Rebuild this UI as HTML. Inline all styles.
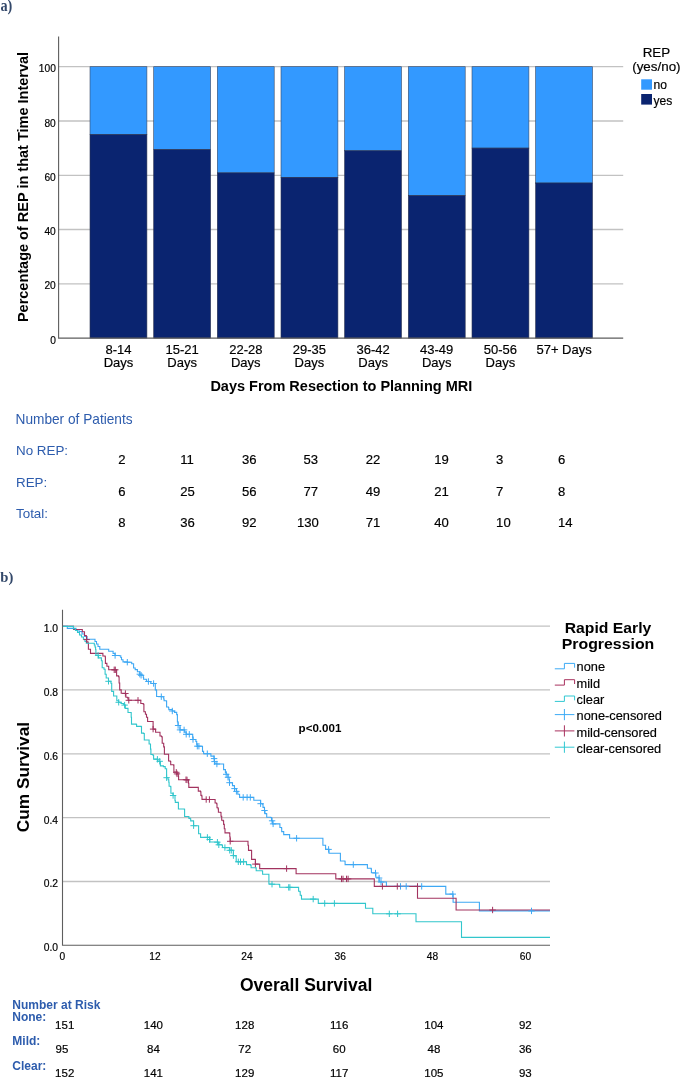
<!DOCTYPE html>
<html lang="en"><head><meta charset="utf-8"><title>Figure</title>
<style>
html,body{margin:0;padding:0;background:#fff;}
svg{display:block;}
text{font-family:"Liberation Sans",Arial,sans-serif;fill:#000;stroke:#000;stroke-width:0.18;}
.b,.ser,.blue{stroke:none;}
.b{font-weight:bold;}
.blue{fill:#2d5cad;}
.ser{font-family:"Liberation Serif",serif;font-weight:bold;fill:#33486a;}
.grid{stroke:#c2c2c2;stroke-width:1.3;}
.ax{stroke:#5e5e5e;stroke-width:1.1;fill:none;}
</style></head><body>
<svg width="685" height="1079" viewBox="0 0 685 1079">
<rect width="685" height="1079" fill="#fff"/>
<text class="ser" transform="translate(0.4 10.9) scale(0.87 1)" font-size="16.4">a)</text>
<line class="grid" x1="58.6" x2="623.2" y1="283.8" y2="283.8"/>
<line class="grid" x1="58.6" x2="623.2" y1="229.5" y2="229.5"/>
<line class="grid" x1="58.6" x2="623.2" y1="175.3" y2="175.3"/>
<line class="grid" x1="58.6" x2="623.2" y1="121.0" y2="121.0"/>
<line class="grid" x1="58.6" x2="623.2" y1="66.7" y2="66.7"/>
<rect x="90.0" y="66.7" width="56.9" height="67.8" fill="#3399ff" stroke="#3a4a66" stroke-width="0.6"/>
<rect x="90.0" y="134.5" width="56.9" height="203.6" fill="#0a2470" stroke="#2a3350" stroke-width="0.6"/>
<rect x="153.7" y="66.7" width="56.9" height="82.9" fill="#3399ff" stroke="#3a4a66" stroke-width="0.6"/>
<rect x="153.7" y="149.6" width="56.9" height="188.5" fill="#0a2470" stroke="#2a3350" stroke-width="0.6"/>
<rect x="217.3" y="66.7" width="56.9" height="106.2" fill="#3399ff" stroke="#3a4a66" stroke-width="0.6"/>
<rect x="217.3" y="172.9" width="56.9" height="165.2" fill="#0a2470" stroke="#2a3350" stroke-width="0.6"/>
<rect x="281.0" y="66.7" width="56.9" height="110.6" fill="#3399ff" stroke="#3a4a66" stroke-width="0.6"/>
<rect x="281.0" y="177.3" width="56.9" height="160.8" fill="#0a2470" stroke="#2a3350" stroke-width="0.6"/>
<rect x="344.6" y="66.7" width="56.9" height="84.1" fill="#3399ff" stroke="#3a4a66" stroke-width="0.6"/>
<rect x="344.6" y="150.8" width="56.9" height="187.3" fill="#0a2470" stroke="#2a3350" stroke-width="0.6"/>
<rect x="408.3" y="66.7" width="56.9" height="128.9" fill="#3399ff" stroke="#3a4a66" stroke-width="0.6"/>
<rect x="408.3" y="195.6" width="56.9" height="142.5" fill="#0a2470" stroke="#2a3350" stroke-width="0.6"/>
<rect x="472.0" y="66.7" width="56.9" height="81.4" fill="#3399ff" stroke="#3a4a66" stroke-width="0.6"/>
<rect x="472.0" y="148.1" width="56.9" height="190.0" fill="#0a2470" stroke="#2a3350" stroke-width="0.6"/>
<rect x="535.6" y="66.7" width="56.9" height="116.3" fill="#3399ff" stroke="#3a4a66" stroke-width="0.6"/>
<rect x="535.6" y="183.0" width="56.9" height="155.1" fill="#0a2470" stroke="#2a3350" stroke-width="0.6"/>
<path class="ax" d="M58.6 36.6V338.1H623.2"/>
<text x="55.8" y="343.7" font-size="10.2" text-anchor="end">0</text>
<text x="55.8" y="289.4" font-size="10.2" text-anchor="end">20</text>
<text x="55.8" y="235.1" font-size="10.2" text-anchor="end">40</text>
<text x="55.8" y="180.9" font-size="10.2" text-anchor="end">60</text>
<text x="55.8" y="126.6" font-size="10.2" text-anchor="end">80</text>
<text x="55.8" y="72.3" font-size="10.2" text-anchor="end">100</text>
<text x="118.5" y="354.3" font-size="13" text-anchor="middle">8-14</text>
<text x="118.5" y="366.5" font-size="13" text-anchor="middle">Days</text>
<text x="182.1" y="354.3" font-size="13" text-anchor="middle">15-21</text>
<text x="182.1" y="366.5" font-size="13" text-anchor="middle">Days</text>
<text x="245.8" y="354.3" font-size="13" text-anchor="middle">22-28</text>
<text x="245.8" y="366.5" font-size="13" text-anchor="middle">Days</text>
<text x="309.4" y="354.3" font-size="13" text-anchor="middle">29-35</text>
<text x="309.4" y="366.5" font-size="13" text-anchor="middle">Days</text>
<text x="373.1" y="354.3" font-size="13" text-anchor="middle">36-42</text>
<text x="373.1" y="366.5" font-size="13" text-anchor="middle">Days</text>
<text x="436.7" y="354.3" font-size="13" text-anchor="middle">43-49</text>
<text x="436.7" y="366.5" font-size="13" text-anchor="middle">Days</text>
<text x="500.4" y="354.3" font-size="13" text-anchor="middle">50-56</text>
<text x="500.4" y="366.5" font-size="13" text-anchor="middle">Days</text>
<text x="564.1" y="354.3" font-size="13" text-anchor="middle">57+ Days</text>
<text class="b" x="341.3" y="390.8" font-size="14.5" text-anchor="middle">Days From Resection to Planning MRI</text>
<text class="b" transform="translate(28.4 187) rotate(-90)" font-size="14.5" text-anchor="middle">Percentage of REP in that Time Interval</text>
<text x="656.4" y="57.4" font-size="13.4" text-anchor="middle">REP</text>
<text x="656.4" y="70.6" font-size="13.4" text-anchor="middle">(yes/no)</text>
<rect x="641.2" y="79.3" width="10.8" height="10.4" fill="#3399ff"/>
<rect x="641.2" y="94" width="10.8" height="10.6" fill="#0a2470"/>
<text x="653.5" y="89.1" font-size="12.1">no</text>
<text x="653.5" y="104.5" font-size="12.1">yes</text>
<text class="blue" transform="translate(15.5 423.7) scale(0.985 1)" font-size="13.9">Number of Patients</text>
<text class="blue" x="16" y="454.9" font-size="13.4">No REP:</text>
<text class="blue" x="16" y="486.7" font-size="13.4">REP:</text>
<text class="blue" x="16" y="518" font-size="13.4">Total:</text>
<text x="118.3" y="463.9" font-size="13.1">2</text>
<text x="180.2" y="463.9" font-size="13.1">11</text>
<text x="242.0" y="463.9" font-size="13.1">36</text>
<text x="303.4" y="463.9" font-size="13.1">53</text>
<text x="365.8" y="463.9" font-size="13.1">22</text>
<text x="434.2" y="463.9" font-size="13.1">19</text>
<text x="496.1" y="463.9" font-size="13.1">3</text>
<text x="558.0" y="463.9" font-size="13.1">6</text>
<text x="118.3" y="495.6" font-size="13.1">6</text>
<text x="180.2" y="495.6" font-size="13.1">25</text>
<text x="242.0" y="495.6" font-size="13.1">56</text>
<text x="303.4" y="495.6" font-size="13.1">77</text>
<text x="365.8" y="495.6" font-size="13.1">49</text>
<text x="434.2" y="495.6" font-size="13.1">21</text>
<text x="496.1" y="495.6" font-size="13.1">7</text>
<text x="558.0" y="495.6" font-size="13.1">8</text>
<text x="118.3" y="526.6" font-size="13.1">8</text>
<text x="180.2" y="526.6" font-size="13.1">36</text>
<text x="242.0" y="526.6" font-size="13.1">92</text>
<text x="296.9" y="526.6" font-size="13.1">130</text>
<text x="365.8" y="526.6" font-size="13.1">71</text>
<text x="434.2" y="526.6" font-size="13.1">40</text>
<text x="496.1" y="526.6" font-size="13.1">10</text>
<text x="558.0" y="526.6" font-size="13.1">14</text>
<text class="ser" transform="translate(0.3 581.7) scale(0.97 1)" font-size="15.1">b)</text>
<line class="grid" x1="62.5" x2="550" y1="881.5" y2="881.5"/>
<line class="grid" x1="62.5" x2="550" y1="817.6" y2="817.6"/>
<line class="grid" x1="62.5" x2="550" y1="753.8" y2="753.8"/>
<line class="grid" x1="62.5" x2="550" y1="689.9" y2="689.9"/>
<line class="grid" x1="62.5" x2="550" y1="626.1" y2="626.1"/>
<path d="M62.6 626.4H67.3V628.4H73.5H76.0V629.5H79.0V631.5H82.0V634.0H84.5V636.5H87.0V639.3H93.6H95.0V641.5H96.5V644.0H98.0V646.5H99.8V649.2H108.7V651.3H112.7H113.1V653.5H115.1V655.5H119.3V655.7H120.8V657.5H121.5V659.7H123.0V661.9H127.3V662.2H131.7V662.3V663.7H133.4V663.8H133.6V668.0H135.2V669.6H137.4V671.8H139.8V674.2H141.1V675.3H143.3V677.5H143.6V679.3H146.2V679.7H146.6V681.5H148.4H150.6V681.9H150.9V683.5H153.6H155.0H155.3V689.9H156.4V690.6H156.6V696.5H161.3V696.7H163.4H163.7V699.0H164.1V700.8H166.3V701.0H166.6V707.0H168.5V707.8H168.8V709.6H172.3V709.9V711.0H174.5V712.4H176.7V714.6H177.4V721.9H178.1V725.5H180.0V727.7V729.9H184.1H184.7V732.1H186.2V734.3H189.3H191.9V734.4H192.7V737.5H193.0V739.5H195.9V741.5H196.7V744.8H197.3V746.2H198.9H202.2H202.5V751.4H203.6V753.7H207.3H210.5H210.9V756.1H213.8V756.5H214.1V758.6H214.5V761.6H214.9V763.8H216.9V764.0H223.2H223.6V769.6H225.4V772.5H226.2V774.3H228.0V777.3H229.1V779.8H229.5V782.7H232.3V782.9H232.5V785.6H234.2V786.0H234.5V788.6H236.4V791.4H237.8V794.2H239.6V794.6V797.4H243.2H247.1H250.3H253.8V797.5V800.3H260.4V800.4H260.6V803.7H262.6V804.1H263.0V807.4H264.4V807.7H264.5V810.5H265.0V813.6H266.6V814.0H266.7V817.3H270.7V817.5H271.5V820.8H272.1H272.5V823.9H273.1H279.4H279.9V827.5H281.5V828.0H281.7V831.6H283.7V831.8V834.6H289.6V838.3H296.6H322.4H322.9V845.2H325.6V845.9V849.4H328.6H329.0V849.6V853.2H340.1H340.4V861.0H344.8V861.3H345.1V864.6H353.3H367.0H367.4V868.3H371.1V868.9H371.4V872.7H375.5V873.0H375.8V877.3H379.1V878.0V881.7H381.0V882.0H386.4V886.4H400.5H406.2H421.7H445.6H445.8V894.1H452.8H453.1V902.2H479.4V910.9H531.5H550.0" fill="none" stroke="#3ea8f4" stroke-width="1.1" stroke-linejoin="miter"/>
<path d="M62.6 626.4H73.5V629.5H81.9H82.3V631.7H84.5V633.1V635.5H86.3V636.8H86.6V639.6V641.9H88.0V643.0H88.4V649.2H90.5V649.5V653.4H102.4H102.9V656.0H105.1V656.8H105.4V663.4H106.9V664.1V666.2H108.7V666.6V669.7H114.2V669.8H115.3H116.2H116.6V675.9H118.6V676.7H119.1V683.0H119.7V689.9H121.2V693.3H125.4V693.5H125.9V697.2H127.7V697.9H128.1V700.2H128.8V700.3H138.0H140.4H140.8V703.5H143.3V704.2H143.9V711.7H145.4V714.2H146.5V717.2H147.6V721.5H152.3H153.1V725.2V729.1H155.3V729.5H155.6V732.2H159.7V732.3H160.0V736.0H161.5V736.7H162.2V743.2H163.7V746.9H164.4V754.2H168.3H168.6V761.0H170.3V761.5H170.7V764.8H173.6V765.1H173.9V772.1H176.3V772.3H177.0V773.9H178.3V776.0H178.6V779.7H186.0H187.0V779.9H188.2V779.8H188.5V783.2H188.8V787.4H198.0H198.3V791.1H200.5V791.8H200.9V795.4H201.8V796.2H202.0V799.4H206.2V799.5H209.4H214.8H215.1V803.0H216.6V803.8H217.0V807.8H218.1V808.9H218.4V812.2H220.6V812.5H221.0V816.2H221.7V820.2H223.2V820.9H223.6V824.4H224.3V828.8H225.0V832.9H229.4V833.1H229.8V837.0H230.2V841.3H247.5H248.0V845.2H248.5V850.4H251.4V850.5H251.6V859.4H255.1V859.5H255.4V864.1H259.2H259.7V868.6H286.6H295.9H296.1V873.8H335.6H335.8V878.9H341.5H343.0H346.5H348.1H374.3V886.4H382.4H397.3H417.5V898.2H456.1V898.3V910.0H492.6H550.0" fill="none" stroke="#a2335f" stroke-width="1.1" stroke-linejoin="miter"/>
<path d="M62.6 626.4H73.5V628.8H75.5V630.5H77.5V632.5H79.5V635.0H81.5V637.0H83.4V639.3H85.0V641.5H86.3V643.3H93.7H94.3V645.0H95.0V647.0H95.6V649.5H95.9V655.3H98.1V655.4H98.5V657.9H101.4V660.8H102.2V667.7H104.0V669.2H105.1V674.3H106.2V678.0H108.5V681.3H110.9V683.3H111.7V691.4H113.6V696.0H116.8V700.8H118.7V702.3H121.0V703.5H123.7V704.5H124.6V705.1H125.3V708.4H128.0V712.5H131.2V717.2H131.5V724.1H136.3V724.5H136.6V726.4H141.2V726.6H141.5V733.1H143.6V733.5H144.3V740.0H148.4H149.1V744.0H150.5V749.1H150.9V754.5H153.1V755.5H153.6V759.1H157.4V759.3H157.8V761.3H159.7H160.4V765.9H163.4V766.6H165.2V768.8H166.6V777.7H168.1V779.7H168.8V782.3H169.1V786.3H170.6V786.7H170.9V793.2H173.1V795.5H175.0V800.5H175.3V802.4H178.3V802.5H178.4V809.0H184.3V809.2H184.6V816.5H188.5H188.9V818.4H190.3V818.7H190.7V820.9H193.5V821.0H193.6V825.7H196.4H198.6V833.8H200.6V835.7V837.4H207.4H209.7V837.5V839.5V842.0H217.4V842.2H218.5H218.8V844.8H222.1V845.2H222.5V847.5H224.9V847.6H229.6V847.8H229.7V850.3H231.3H233.2V850.6H233.4V855.6H235.7V855.9H236.2V861.7H238.3V861.8H240.5H243.6H245.9H246.5V864.6H250.5V865.1H251.1V867.7H255.7V867.9H256.2V870.8H262.3V871.0H262.6V874.3H267.9H268.9V884.0H272.0V884.2H279.2V884.6H279.7V887.2H288.7V887.4H289.9H298.4H298.6V891.2H299.9V891.7H300.2V895.3H301.3V895.6H301.5V899.1H313.2H318.3V903.4H324.7H334.4H365.5V903.5V908.2H372.5H372.8V913.8H389.3H397.6H415.6H416.0V921.8H461.0H461.5V937.4H550.0" fill="none" stroke="#32c6cc" stroke-width="1.1" stroke-linejoin="miter"/>
<path d="M111.9 655.5h6.4M115.1 652.3v6.4M124.1 662.2h6.4M127.3 659.0v6.4M136.6 674.2h6.4M139.8 671.0v6.4M137.9 675.3h6.4M141.1 672.1v6.4M145.2 681.5h6.4M148.4 678.3v6.4M150.4 683.5h6.4M153.6 680.3v6.4M158.1 696.7h6.4M161.3 693.5v6.4M169.1 711.0h6.4M172.3 707.8v6.4M174.9 725.5h6.4M178.1 722.3v6.4M176.8 729.9h6.4M180.0 726.7v6.4M180.9 729.9h6.4M184.1 726.7v6.4M183.0 734.3h6.4M186.2 731.1v6.4M186.1 734.3h6.4M189.3 731.1v6.4M189.8 739.5h6.4M193.0 736.3v6.4M194.1 746.2h6.4M197.3 743.0v6.4M195.7 746.2h6.4M198.9 743.0v6.4M204.1 753.7h6.4M207.3 750.5v6.4M210.9 758.6h6.4M214.1 755.4v6.4M211.3 761.6h6.4M214.5 758.4v6.4M213.7 764.0h6.4M216.9 760.8v6.4M223.0 774.3h6.4M226.2 771.1v6.4M224.8 777.3h6.4M228.0 774.1v6.4M226.3 782.7h6.4M229.5 779.5v6.4M231.3 788.6h6.4M234.5 785.4v6.4M233.2 791.4h6.4M236.4 788.2v6.4M240.0 797.4h6.4M243.2 794.2v6.4M243.9 797.4h6.4M247.1 794.2v6.4M247.1 797.4h6.4M250.3 794.2v6.4M257.4 803.7h6.4M260.6 800.5v6.4M261.3 810.5h6.4M264.5 807.3v6.4M268.9 820.8h6.4M272.1 817.6v6.4M269.9 823.9h6.4M273.1 820.7v6.4M293.4 838.3h6.4M296.6 835.1v6.4M325.4 849.4h6.4M328.6 846.2v6.4M350.1 864.6h6.4M353.3 861.4v6.4M372.3 873.0h6.4M375.5 869.8v6.4M375.9 878.0h6.4M379.1 874.8v6.4M377.8 882.0h6.4M381.0 878.8v6.4M397.3 886.4h6.4M400.5 883.2v6.4M403.0 886.4h6.4M406.2 883.2v6.4M418.5 886.4h6.4M421.7 883.2v6.4M449.6 894.1h6.4M452.8 890.9v6.4M528.3 910.9h6.4M531.5 907.7v6.4" fill="none" stroke="#3ea8f4" stroke-width="1.0"/>
<path d="M83.4 639.6h6.4M86.6 636.4v6.4M111.0 669.8h6.4M114.2 666.6v6.4M112.1 669.8h6.4M115.3 666.6v6.4M122.2 693.5h6.4M125.4 690.3v6.4M125.6 700.3h6.4M128.8 697.1v6.4M134.8 700.3h6.4M138.0 697.1v6.4M149.9 729.1h6.4M153.1 725.9v6.4M173.1 772.3h6.4M176.3 769.1v6.4M173.8 773.9h6.4M177.0 770.7v6.4M182.8 779.7h6.4M186.0 776.5v6.4M183.8 779.9h6.4M187.0 776.7v6.4M203.0 799.5h6.4M206.2 796.3v6.4M206.2 799.5h6.4M209.4 796.3v6.4M227.0 841.3h6.4M230.2 838.1v6.4M252.2 864.1h6.4M255.4 860.9v6.4M283.4 868.6h6.4M286.6 865.4v6.4M338.3 878.9h6.4M341.5 875.7v6.4M339.8 878.9h6.4M343.0 875.7v6.4M343.3 878.9h6.4M346.5 875.7v6.4M344.9 878.9h6.4M348.1 875.7v6.4M379.2 886.4h6.4M382.4 883.2v6.4M394.1 886.4h6.4M397.3 883.2v6.4M414.3 886.4h6.4M417.5 883.2v6.4M489.4 910.0h6.4M492.6 906.8v6.4" fill="none" stroke="#a2335f" stroke-width="1.0"/>
<path d="M94.9 655.4h6.4M98.1 652.2v6.4M105.3 681.3h6.4M108.5 678.1v6.4M115.5 702.3h6.4M118.7 699.1v6.4M121.4 705.1h6.4M124.6 701.9v6.4M154.2 759.3h6.4M157.4 756.1v6.4M156.5 761.3h6.4M159.7 758.1v6.4M163.4 777.7h6.4M166.6 774.5v6.4M169.9 795.5h6.4M173.1 792.3v6.4M190.4 825.7h6.4M193.6 822.5v6.4M204.2 837.4h6.4M207.4 834.2v6.4M206.5 839.5h6.4M209.7 836.3v6.4M214.2 842.2h6.4M217.4 839.0v6.4M215.6 844.8h6.4M218.8 841.6v6.4M221.7 847.6h6.4M224.9 844.4v6.4M226.5 850.3h6.4M229.7 847.1v6.4M228.1 850.3h6.4M231.3 847.1v6.4M230.2 855.6h6.4M233.4 852.4v6.4M235.1 861.8h6.4M238.3 858.6v6.4M237.3 861.8h6.4M240.5 858.6v6.4M240.4 861.8h6.4M243.6 858.6v6.4M268.8 884.2h6.4M272.0 881.0v6.4M285.5 887.4h6.4M288.7 884.2v6.4M286.7 887.4h6.4M289.9 884.2v6.4M310.0 899.1h6.4M313.2 895.9v6.4M321.5 903.4h6.4M324.7 900.2v6.4M331.2 903.4h6.4M334.4 900.2v6.4M386.1 913.8h6.4M389.3 910.6v6.4M394.4 913.8h6.4M397.6 910.6v6.4" fill="none" stroke="#32c6cc" stroke-width="1.0"/>
<path class="ax" d="M62.5 609.7V945.3H550"/>
<text x="58" y="951.2" font-size="10.3" text-anchor="end">0.0</text>
<text x="58" y="887.4" font-size="10.3" text-anchor="end">0.2</text>
<text x="58" y="823.5" font-size="10.3" text-anchor="end">0.4</text>
<text x="58" y="759.7" font-size="10.3" text-anchor="end">0.6</text>
<text x="58" y="695.8" font-size="10.3" text-anchor="end">0.8</text>
<text x="58" y="632.0" font-size="10.3" text-anchor="end">1.0</text>
<text x="62.4" y="960.1" font-size="10.2" text-anchor="middle">0</text>
<text x="155" y="960.1" font-size="10.2" text-anchor="middle">12</text>
<text x="247" y="960.1" font-size="10.2" text-anchor="middle">24</text>
<text x="340.2" y="960.1" font-size="10.2" text-anchor="middle">36</text>
<text x="432.4" y="960.1" font-size="10.2" text-anchor="middle">48</text>
<text x="525.5" y="960.1" font-size="10.2" text-anchor="middle">60</text>
<text class="b" x="306.1" y="990.7" font-size="17.5" text-anchor="middle">Overall Survival</text>
<text class="b" transform="translate(28.5 777.1) rotate(-90)" font-size="17.3" text-anchor="middle">Cum Survival</text>
<text class="b" x="320" y="731.6" font-size="11.6" text-anchor="middle">p&lt;0.001</text>
<text class="b" x="608" y="632.6" font-size="15.4" textLength="86.5" lengthAdjust="spacingAndGlyphs" text-anchor="middle">Rapid Early</text>
<text class="b" x="608" y="648.9" font-size="15.4" textLength="92.6" lengthAdjust="spacingAndGlyphs" text-anchor="middle">Progression</text>
<path d="M554.8 668.8H564.4V663.4H574.6V667.7" fill="none" stroke="#3daaf5" stroke-width="1"/>
<text transform="translate(576.6 671.3) scale(0.955 1)" font-size="13.4">none</text>
<path d="M554.8 685.1H564.4V679.7H574.6V684.0" fill="none" stroke="#a8325e" stroke-width="1"/>
<text transform="translate(576.6 687.6) scale(0.955 1)" font-size="13.4">mild</text>
<path d="M554.8 701.4H564.4V696.0H574.6V700.3" fill="none" stroke="#30c8d2" stroke-width="1"/>
<text transform="translate(576.6 703.9) scale(0.955 1)" font-size="13.4">clear</text>
<path d="M554.8 714.6H574.4M564.4 709.0V720.2" fill="none" stroke="#3daaf5" stroke-width="1"/>
<text transform="translate(576.6 720.2) scale(0.955 1)" font-size="13.4">none-censored</text>
<path d="M554.8 730.9H574.4M564.4 725.3V736.5" fill="none" stroke="#a8325e" stroke-width="1"/>
<text transform="translate(576.6 736.5) scale(0.955 1)" font-size="13.4">mild-censored</text>
<path d="M554.8 747.2H574.4M564.4 741.6V752.8" fill="none" stroke="#30c8d2" stroke-width="1"/>
<text transform="translate(576.6 752.8) scale(0.955 1)" font-size="13.4">clear-censored</text>
<text class="b blue" x="12.3" y="1008.6" font-size="12">Number at Risk</text>
<text class="b blue" x="12.3" y="1020.8" font-size="12">None:</text>
<text x="64.7" y="1028.5" font-size="11.5" text-anchor="middle">151</text>
<text x="153.4" y="1028.5" font-size="11.5" text-anchor="middle">140</text>
<text x="244.7" y="1028.5" font-size="11.5" text-anchor="middle">128</text>
<text x="339.2" y="1028.5" font-size="11.5" text-anchor="middle">116</text>
<text x="433.9" y="1028.5" font-size="11.5" text-anchor="middle">104</text>
<text x="525.3" y="1028.5" font-size="11.5" text-anchor="middle">92</text>
<text class="b blue" x="12.3" y="1045.3" font-size="12">Mild:</text>
<text x="62.0" y="1053.2" font-size="11.5" text-anchor="middle">95</text>
<text x="153.4" y="1053.2" font-size="11.5" text-anchor="middle">84</text>
<text x="244.7" y="1053.2" font-size="11.5" text-anchor="middle">72</text>
<text x="339.2" y="1053.2" font-size="11.5" text-anchor="middle">60</text>
<text x="433.9" y="1053.2" font-size="11.5" text-anchor="middle">48</text>
<text x="525.3" y="1053.2" font-size="11.5" text-anchor="middle">36</text>
<text class="b blue" x="12.3" y="1069.5" font-size="12">Clear:</text>
<text x="64.7" y="1077" font-size="11.5" text-anchor="middle">152</text>
<text x="153.4" y="1077" font-size="11.5" text-anchor="middle">141</text>
<text x="244.7" y="1077" font-size="11.5" text-anchor="middle">129</text>
<text x="339.2" y="1077" font-size="11.5" text-anchor="middle">117</text>
<text x="433.9" y="1077" font-size="11.5" text-anchor="middle">105</text>
<text x="525.3" y="1077" font-size="11.5" text-anchor="middle">93</text>
</svg>
</body></html>
